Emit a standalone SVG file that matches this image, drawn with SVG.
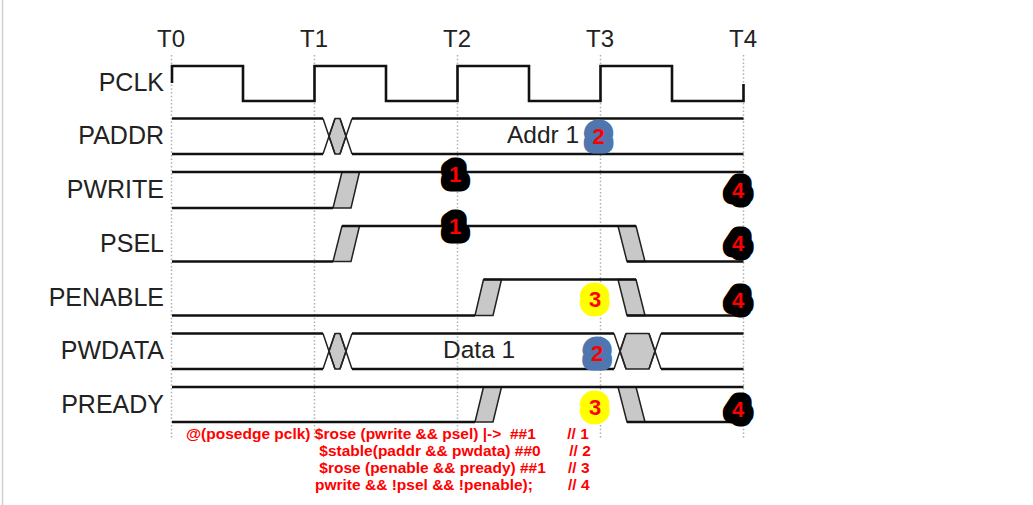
<svg xmlns="http://www.w3.org/2000/svg" width="1033" height="505" viewBox="0 0 1033 505">
<style>
.bg{fill:#fff}
.grid{stroke:#b0b0b0;stroke-width:1.5;stroke-dasharray:1.5 2.2;fill:none}
.sig{stroke:#111;stroke-width:2.6;fill:none;stroke-linejoin:miter}
.tr{fill:#c8c8c8;stroke:#222;stroke-width:1.5;stroke-linejoin:round}
.xl{stroke:#222;stroke-width:1.5;fill:none}
.lbl{font-family:"Liberation Sans",Arial,sans-serif;font-size:25px;fill:#222;text-anchor:end}
.tl{font-family:"Liberation Sans",Arial,sans-serif;font-size:24px;fill:#222;text-anchor:middle}
.val{font-family:"Liberation Sans",Arial,sans-serif;font-size:24.5px;fill:#222}
.code{font-family:"Liberation Sans",Arial,sans-serif;font-size:15.5px;font-weight:bold;fill:#f00}
.mk{font-family:"Liberation Sans",Arial,sans-serif;font-size:22px;font-weight:bold;fill:#f00;text-anchor:middle;stroke-width:19;stroke-linejoin:round;paint-order:stroke}
.k{stroke:#000}
.b{stroke:#4f76ae}
.y{stroke:#ffff00}
</style>
<rect class="bg" x="0" y="0" width="1033" height="505"/>
<line x1="2.5" y1="0" x2="2.5" y2="505" stroke="#cfcfcf" stroke-width="1.5"/>

<g id="timeline">
<line class="grid" x1="171.5" y1="55" x2="171.5" y2="439"/>
<line class="grid" x1="314.5" y1="55" x2="314.5" y2="439"/>
<line class="grid" x1="457.5" y1="55" x2="457.5" y2="439"/>
<line class="grid" x1="600.5" y1="55" x2="600.5" y2="439"/>
<line class="grid" x1="743.5" y1="55" x2="743.5" y2="439"/>
<text class="tl" x="171" y="47">T0</text>
<text class="tl" x="314" y="47">T1</text>
<text class="tl" x="457" y="47">T2</text>
<text class="tl" x="600" y="47">T3</text>
<text class="tl" x="743" y="47">T4</text>
</g>

<g id="pclk">
<text class="lbl" x="164" y="91">PCLK</text>
<path class="sig" d="M172,83 V66 H243 V101 H314.5 V66 H386 V101 H457.5 V66 H529 V101 H600.5 V66 H672 V101 H743.5 V84"/>
</g>

<g id="paddr">
<text class="lbl" x="164" y="144">PADDR</text>
<path class="tr" d="M329,136.25 L335,118.5 H340 L346,136.25 L340,154 H335 Z"/>
<path class="xl" d="M323,118.5 L335,154 M323,154 L335,118.5 M340,118.5 L352,154 M340,154 L352,118.5"/>
<path class="sig" d="M172,118.5 H323 M172,154 H323 M352,118.5 H743.5 M352,154 H743.5"/>
<text class="val" x="507" y="143">Addr 1</text>
</g>

<g id="pwrite">
<text class="lbl" x="164" y="198">PWRITE</text>
<path class="tr" d="M333,208 H351 L359.5,172 H342 Z"/>
<path class="sig" d="M172,172 H743.5 M172,208 H333"/>
</g>

<g id="psel">
<text class="lbl" x="164" y="252">PSEL</text>
<path class="tr" d="M333,261.5 H351 L359.5,226 H342 Z"/>
<path class="tr" d="M618,226 H636 L645,261.5 H627 Z"/>
<path class="sig" d="M172,261.5 H333 M342,226 H636 M627,261.5 H743.5"/>
</g>

<g id="penable">
<text class="lbl" x="164" y="306">PENABLE</text>
<path class="tr" d="M475,315.5 H493 L501.5,279.5 H483.5 Z"/>
<path class="tr" d="M618,279.5 H636 L645,315.5 H627 Z"/>
<path class="sig" d="M172,315.5 H475 M483.5,279.5 H636 M627,315.5 H743.5"/>
</g>

<g id="pwdata">
<text class="lbl" x="164" y="359">PWDATA</text>
<path class="tr" d="M329,351.25 L335,333.5 H340 L346,351.25 L340,369 H335 Z"/>
<path class="xl" d="M323,333.5 L335,369 M323,369 L335,333.5 M340,333.5 L352,369 M340,369 L352,333.5"/>
<path class="tr" d="M620,351.25 L626,333.5 H649 L655,351.25 L649,369 H626 Z"/>
<path class="xl" d="M614,333.5 L626,369 M614,369 L626,333.5 M649,333.5 L661,369 M649,369 L661,333.5"/>
<path class="sig" d="M172,333.5 H323 M172,369 H323 M352,333.5 H614 M352,369 H614 M661,333.5 H743.5 M661,369 H743.5"/>
<text class="val" x="443" y="358">Data 1</text>
</g>

<g id="pready">
<text class="lbl" x="164" y="413">PREADY</text>
<path class="tr" d="M475,422 H493 L501.5,387 H483.5 Z"/>
<path class="tr" d="M618,387 H636 L645,422 H627 Z"/>
<path class="sig" d="M172,387 H743.5 M172,422 H475 M627,422 H743.5"/>
</g>

<g id="markers">
<text class="mk k" x="455" y="181.5">1</text>
<text class="mk k" x="455" y="234">1</text>
<text class="mk b" x="598.5" y="143.5">2</text>
<text class="mk b" x="597" y="361">2</text>
<text class="mk y" x="595" y="307">3</text>
<text class="mk y" x="595" y="415">3</text>
<text class="mk k" x="738" y="198">4</text>
<text class="mk k" x="738" y="251">4</text>
<text class="mk k" x="738" y="308">4</text>
<text class="mk k" x="738" y="417">4</text>
</g>

<g id="connectors"></g>

<g id="assertion">
<text class="code" y="439.3"><tspan x="186">@(posedge pclk) $rose (pwrite &amp;&amp; psel) |-&gt;</tspan><tspan x="510">##1</tspan><tspan x="567.3">// 1</tspan></text>
<text class="code" y="456"><tspan x="319.3">$stable(paddr &amp;&amp; pwdata) ##0</tspan><tspan x="569.3">// 2</tspan></text>
<text class="code" y="473.3"><tspan x="319.3">$rose (penable &amp;&amp; pready) ##1</tspan><tspan x="568">// 3</tspan></text>
<text class="code" y="490"><tspan x="315">pwrite &amp;&amp; !psel &amp;&amp; !penable);</tspan><tspan x="568">// 4</tspan></text>
</g>
</svg>
